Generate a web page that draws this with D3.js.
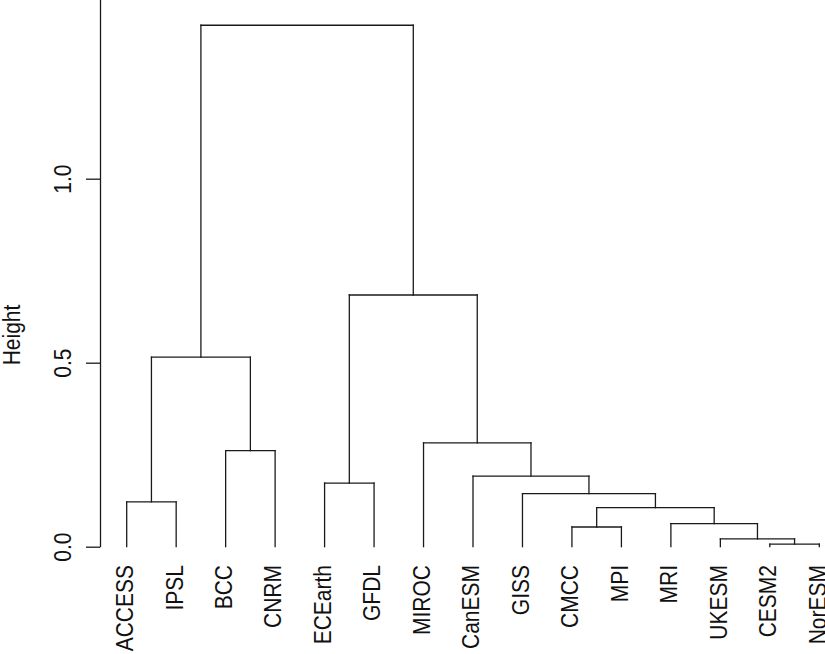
<!DOCTYPE html>
<html>
<head>
<meta charset="utf-8">
<script src="https://cdn.jsdelivr.net/npm/d3@7"></script>
<style>
  html,body{margin:0;padding:0;background:#fff;}
  svg{display:block;}
  text{font-family:"Liberation Sans",Arial,sans-serif;fill:#111;}
</style>
</head>
<body>
<svg width="825" height="654"></svg>
<script>
// leaf labels in plotting order
const labels = ["ACCESS","IPSL","BCC","CNRM","ECEarth","GFDL","MIROC","CanESM","GISS","CMCC","MPI","MRI","UKESM","CESM2","NorESM"];
// hclust-style merges: negative = leaf (1-based), positive = earlier merge
const mergeLeft  = [-14,-13,-10,-12, 3, -1, -9, -5, -8, -3, -7,  6,  8, 12];
const mergeRight = [-15,  1,-11,  2, 4, -2,  5, -6,  7, -4,  9, 10, 11, 13];
const mergeHeight = [0.007,0.021,0.0535,0.0625,0.106,0.122,0.144,0.173,0.192,0.261,0.282,0.515,0.684,1.417];
const yTicks = [0.0, 0.5, 1.0];

const svg = d3.select("svg");

const x = d3.scalePoint().domain(labels).range([126.7, 819.3]);
const y = d3.scaleLinear().domain([0, 1.5]).range([546.7, -5.3]);

// y axis
const yAxis = svg.append("g")
  .attr("transform", "translate(100,0)")
  .call(d3.axisLeft(y).tickValues(yTicks).tickFormat(d3.format(".1f")).tickSize(14).tickSizeOuter(0).tickPadding(0));
yAxis.select(".domain").attr("stroke","#1a1a1a").attr("stroke-width",1.3);
yAxis.selectAll(".tick line").attr("stroke","#1a1a1a").attr("stroke-width",1.3);
yAxis.selectAll(".tick text")
  .attr("x", 0).attr("dy", null)
  .attr("transform", "translate(-37,0) rotate(-90) scale(1,1.1)")
  .attr("text-anchor","middle")
  .attr("dominant-baseline","central")
  .style("font-size","21px")
  .style("font-family","'Liberation Sans',Arial,sans-serif")
  .attr("fill","#111");

svg.append("text")
  .attr("transform","translate(12,335) rotate(-90) scale(1,1.1)")
  .attr("text-anchor","middle")
  .attr("dominant-baseline","central")
  .style("font-size","21px")
  .text("Height");

// compute node positions
const nodeX = [], nodeH = [];
function posOf(i){ return i < 0 ? {x: x(labels[-i-1]), h: 0} : {x: nodeX[i-1], h: nodeH[i-1]}; }
const segs = [];
mergeHeight.forEach((h, k) => {
  const a = posOf(mergeLeft[k]), b = posOf(mergeRight[k]);
  nodeX.push((a.x + b.x) / 2);
  nodeH.push(h);
  segs.push({x1:a.x, y1:y(a.h), x2:a.x, y2:y(h)});
  segs.push({x1:a.x, y1:y(h), x2:b.x, y2:y(h)});
  segs.push({x1:b.x, y1:y(h), x2:b.x, y2:y(b.h)});
});

svg.append("g").selectAll("line").data(segs).enter().append("line")
  .attr("x1", d => d.x1).attr("y1", d => d.y1)
  .attr("x2", d => d.x2).attr("y2", d => d.y2)
  .attr("stroke","#1a1a1a").attr("stroke-width",1.3)
  .attr("stroke-linecap","square");

// leaf labels
svg.append("g").selectAll("text").data(labels).enter().append("text")
  .attr("transform", d => `translate(${x(d)-1.5},565) rotate(-90) scale(1,1.1)`)
  .attr("text-anchor","end")
  .attr("dominant-baseline","central")
  .style("font-size","21px")
  .text(d => d);
</script>
</body>
</html>
